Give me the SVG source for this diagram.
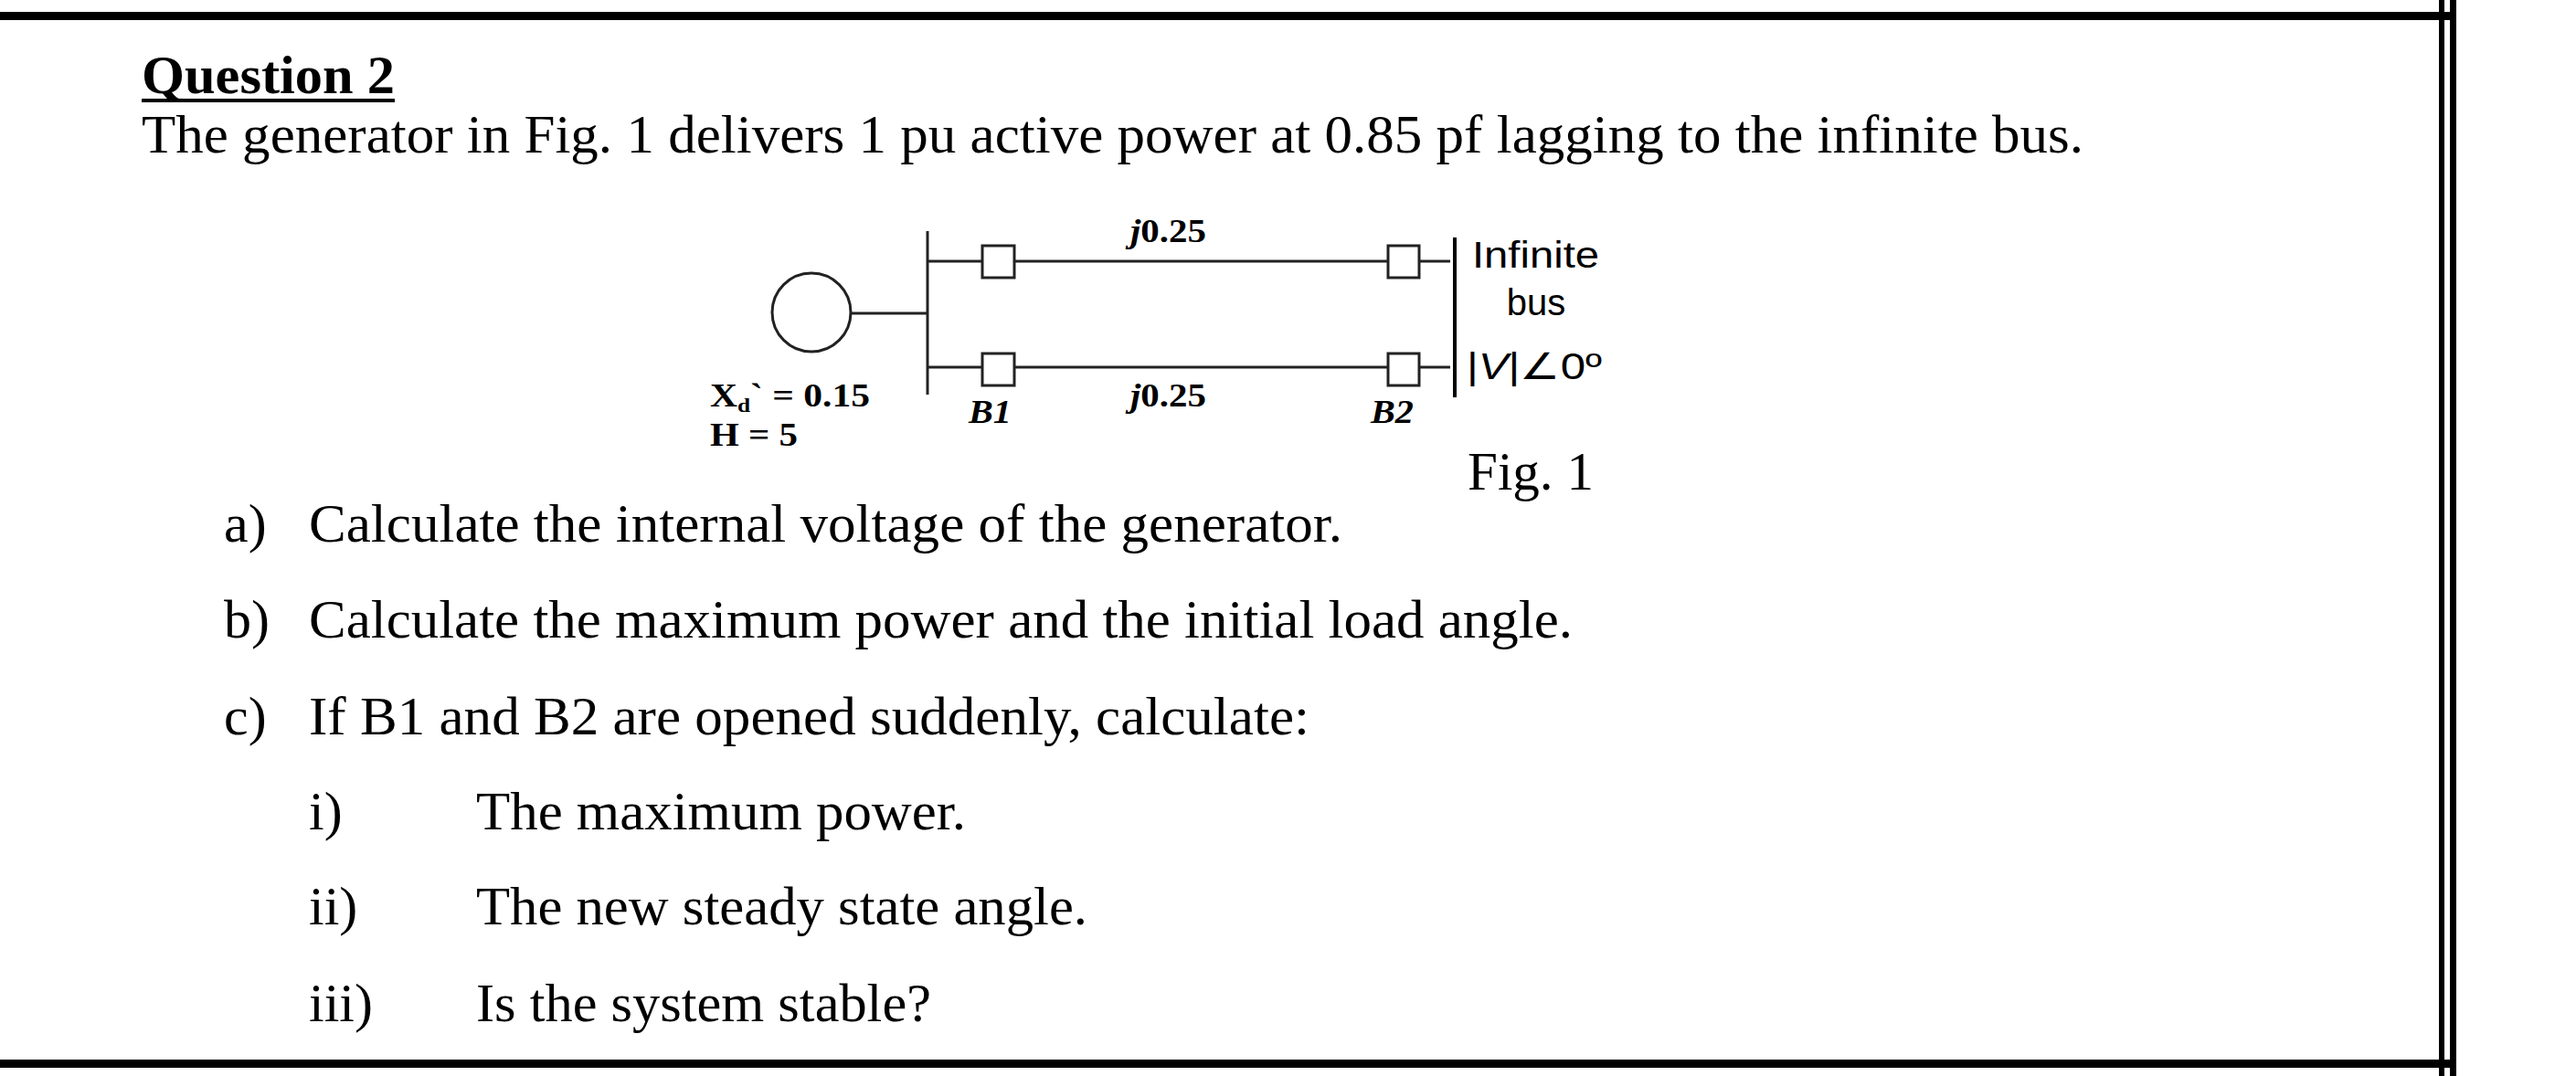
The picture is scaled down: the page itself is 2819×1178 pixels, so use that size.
<svg xmlns="http://www.w3.org/2000/svg" width="2819" height="1178" viewBox="0 0 2819 1178">
<style>
.t{font-family:"Liberation Serif","Times New Roman",serif;font-size:60px;fill:#000}
.f{font-family:"Liberation Serif","Times New Roman",serif;font-size:36px;font-weight:bold;fill:#000}
.s{font-family:"Liberation Sans",Arial,sans-serif;font-size:40px;fill:#000}
.w{stroke:#222;stroke-width:3;fill:none}
</style>
<rect width="2819" height="1178" fill="#fff"/>
<g id="frame" fill="#000">
<rect x="0" y="13" width="2684" height="9"/>
<rect x="0" y="1160" width="2684" height="9"/>
<rect x="2669" y="0" width="6" height="1178"/>
<rect x="2681" y="0" width="7" height="1178"/>
</g>
<g id="text">
<text class="t" x="155" y="102" font-weight="bold" textLength="277" lengthAdjust="spacingAndGlyphs">Question 2</text>
<rect x="155" y="108" width="277" height="4" fill="#000"/>
<text class="t" x="155" y="167" textLength="2125" lengthAdjust="spacingAndGlyphs">The generator in Fig. 1 delivers 1 pu active power at 0.85 pf lagging to the infinite bus.</text>
<text class="t" x="245" y="593">a)</text>
<text class="t" x="338" y="593" textLength="1131" lengthAdjust="spacingAndGlyphs">Calculate the internal voltage of the generator.</text>
<text class="t" x="245" y="698">b)</text>
<text class="t" x="338" y="698" textLength="1383" lengthAdjust="spacingAndGlyphs">Calculate the maximum power and the initial load angle.</text>
<text class="t" x="245" y="804">c)</text>
<text class="t" x="338" y="804" textLength="1095" lengthAdjust="spacingAndGlyphs">If B1 and B2 are opened suddenly, calculate:</text>
<text class="t" x="338" y="908">i)</text>
<text class="t" x="521" y="908" textLength="536" lengthAdjust="spacingAndGlyphs">The maximum power.</text>
<text class="t" x="338" y="1012">ii)</text>
<text class="t" x="521" y="1012" textLength="669" lengthAdjust="spacingAndGlyphs">The new steady state angle.</text>
<text class="t" x="338" y="1118">iii)</text>
<text class="t" x="521" y="1118" textLength="498" lengthAdjust="spacingAndGlyphs">Is the system stable?</text>
<text class="t" x="1606" y="536" textLength="138" lengthAdjust="spacingAndGlyphs">Fig. 1</text>
</g>
<g id="generator"><circle class="w" cx="888" cy="342" r="43"/></g>
<g id="connectors">
<line class="w" x1="931" y1="343" x2="1015" y2="343"/>
<line class="w" x1="1015" y1="253" x2="1015" y2="432"/>
<line class="w" x1="1015" y1="286" x2="1587" y2="286"/>
<line class="w" x1="1015" y1="402" x2="1587" y2="402"/>
</g>
<g id="breakers" class="w">
<rect x="1075" y="269" width="35" height="35" fill="#fff"/>
<rect x="1075" y="387" width="35" height="35" fill="#fff"/>
<rect x="1519" y="269" width="34" height="35" fill="#fff"/>
<rect x="1519" y="387" width="34" height="35" fill="#fff"/>
</g>
<g id="infinite-bus">
<line x1="1592" y1="260" x2="1592" y2="435" stroke="#000" stroke-width="4"/>
<text class="s" x="1611" y="293" textLength="139" lengthAdjust="spacingAndGlyphs">Infinite</text>
<text class="s" x="1681" y="345" text-anchor="middle">bus</text>
<text class="s" x="1605" y="415" textLength="148" lengthAdjust="spacingAndGlyphs">|<tspan font-style="italic">V</tspan>|∠0º</text>
</g>
<g id="labels">
<text class="f" x="1237" y="265" textLength="83" lengthAdjust="spacingAndGlyphs"><tspan font-style="italic">j</tspan>0.25</text>
<text class="f" x="1237" y="445" textLength="83" lengthAdjust="spacingAndGlyphs"><tspan font-style="italic">j</tspan>0.25</text>
<text class="f" x="1060" y="463" font-style="italic" textLength="47" lengthAdjust="spacingAndGlyphs">B1</text>
<text class="f" x="1500" y="463" font-style="italic" textLength="47" lengthAdjust="spacingAndGlyphs">B2</text>
<text class="f" x="777" y="445" textLength="175" lengthAdjust="spacingAndGlyphs">X<tspan font-size="22" dy="6">d</tspan><tspan dy="-6">` = 0.15</tspan></text>
<text class="f" x="777" y="488" textLength="96" lengthAdjust="spacingAndGlyphs">H = 5</text>
</g>
</svg>
